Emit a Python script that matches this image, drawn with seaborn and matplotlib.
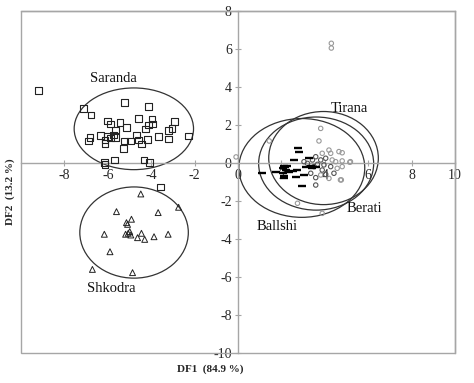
import pandas as pd
import seaborn as sns
import matplotlib
matplotlib.use('Agg')
import matplotlib.pyplot as plt
from matplotlib.patches import Ellipse, Rectangle

# discriminant scores
saranda_x = [-7.12, -6.77, -5.24, -4.11, -6.01, -5.86, -5.44, -4.57, -3.96, -4.11, -4.27, -3.94,
             -2.92, -3.04, -3.22, -5.14, -5.64, -6.32, -5.86, -5.64, -6.13, -6.13, -6.82, -6.90,
             -5.24, -4.95, -4.68, -4.57, -4.45, -4.17, -3.68, -3.22, -2.28, -5.29, -6.16, -6.13,
             -5.70, -4.33, -4.07, -5.75, -6.01, -9.20, -3.58]
saranda_y = [2.88, 2.53, 3.19, 2.96, 2.21, 2.05, 2.14, 2.35, 2.32, 2.00, 1.79, 2.05,
             2.18, 1.82, 1.70, 1.86, 1.74, 1.46, 1.32, 1.35, 1.21, 1.04, 1.35, 1.16,
             1.16, 1.16, 1.47, 1.21, 1.00, 1.25, 1.38, 1.26, 1.42, 0.77, 0.02, -0.07,
             0.16, 0.16, 0.04, 1.47, 1.38, 3.80, -1.26]

shkodra_x = [-4.48, -5.60, -3.68, -2.74, -4.91, -5.14, -5.09, -6.16, -5.18, -5.06,
             -4.94, -4.99, -4.45, -4.63, -4.30, -3.87, -3.22, -5.90, -6.71, -4.86]
shkodra_y = [-1.63, -2.56, -2.61, -2.33, -2.96, -3.14, -3.23, -3.75, -3.75, -3.70,
             -3.79, -3.61, -3.70, -3.93, -4.02, -3.88, -3.75, -4.67, -5.60, -5.77]

tirana_x = [3.73, 4.19, 4.65, 4.27, 3.88, 4.34, 4.50, 4.80, 5.18, 4.80, 4.57, 3.81,
            4.72, 4.19, 3.81, 4.80, 5.15, 4.76, 3.88, 1.44, 2.74, 4.30, 4.30, -0.09]
tirana_y = [1.16, 0.68, 0.60, 0.51, 0.51, 0.16, 0.07, 0.11, 0.07, -0.19, -0.28, -0.63,
            -0.89, -0.81, 1.82, 0.54, 0.04, -0.89, -2.65, 1.16, -2.12, 6.30, 6.05, 0.32]

berati_x = [3.58, 3.43, 3.81, 4.04, 4.27, 3.96, 3.66, 3.50, 3.88, 4.04, 3.58, 3.35,
            4.42, 3.20, 3.04, 3.58]
berati_y = [0.33, 0.16, 0.16, 0.25, -0.19, -0.10, -0.07, -0.19, -0.37, -0.60, -0.77, -0.54,
            -0.54, -0.02, 0.07, -1.16]

ballshi_x = [2.77, 2.81, 2.58, 2.12, 2.09, 2.20, 1.74, 2.05, 2.12, 2.12, 2.35, 2.55,
             2.71, 2.66, 3.04, 3.12, 3.35, 3.43, 3.58, 2.97, 3.27, 2.28, 1.10, 2.17]
ballshi_y = [0.77, 0.56, 0.16, -0.14, -0.28, -0.37, -0.49, -0.54, -0.67, -0.77, -0.49, -0.42,
             -0.37, -0.72, -0.63, -0.19, -0.14, -0.28, -0.19, -1.19, 0.25, -0.14, -0.54, -0.19]

# confidence ellipses: centre x, centre y, width, height
ell_names = ['Saranda', 'Shkodra', 'Ballshi', 'Berati', 'Tirana']
ell_cx = [-4.8, -4.79, 2.94, 3.60, 3.94]
ell_cy = [1.8, -3.66, -0.26, -0.03, 0.26]
ell_w = [5.5, 5.0, 5.8, 5.3, 5.05]
ell_h = [4.3, 4.8, 5.2, 4.9, 4.9]

label_names = ['Saranda', 'Shkodra', 'Tirana', 'Berati', 'Ballshi']
label_x = [-5.73, -5.83, 5.14, 5.83, 1.79]
label_y = [4.47, -6.63, 2.89, -2.37, -3.32]

ticks_x = [-8, -6, -4, -2, 0, 2, 4, 6, 8, 10]
ticks_y = [-10, -8, -6, -4, -2, 0, 2, 4, 6, 8]

df = pd.concat([
    pd.DataFrame({'DF1': saranda_x, 'DF2': saranda_y, 'site': 'Saranda'}),
    pd.DataFrame({'DF1': shkodra_x, 'DF2': shkodra_y, 'site': 'Shkodra'}),
    pd.DataFrame({'DF1': tirana_x, 'DF2': tirana_y, 'site': 'Tirana'}),
    pd.DataFrame({'DF1': berati_x, 'DF2': berati_y, 'site': 'Berati'}),
    pd.DataFrame({'DF1': ballshi_x, 'DF2': ballshi_y, 'site': 'Ballshi'}),
])

sns.set_style('white')
plt.rcParams['font.family'] = ['Liberation Serif', 'DejaVu Serif']

fig = plt.figure(figsize=(4.74, 3.83), dpi=100)
ax = fig.add_axes([0.0443, 0.0783, 0.9157, 0.893])

grey = '#a6a6a6'

for name, cx, cy, w, h in zip(ell_names, ell_cx, ell_cy, ell_w, ell_h):
    ax.add_patch(Ellipse((cx, cy), w, h, fill=False, edgecolor='#333333', lw=0.9, zorder=2))

styles = {
    'Saranda': dict(marker='s', s=24, facecolor='none', edgecolor='#222222', linewidth=0.8),
    'Shkodra': dict(marker='^', s=18, facecolor='none', edgecolor='#222222', linewidth=0.7),
    'Tirana': dict(marker='o', s=10, facecolor='none', edgecolor='#999999', linewidth=0.8),
    'Berati': dict(marker='o', s=10, facecolor='none', edgecolor='#555555', linewidth=0.8),
    'Ballshi': dict(marker='_', s=28, color='black', linewidth=1.7),
}
for site, kw in styles.items():
    sub = df[df['site'] == site]
    sns.scatterplot(data=sub, x='DF1', y='DF2', ax=ax, legend=False, zorder=3, **kw)

for name, lx, ly in zip(label_names, label_x, label_y):
    ax.text(lx, ly, name, ha='center', va='center', fontsize=10.5, color='#111111')

ax.set_xlim(-10, 10)
ax.set_ylim(-10, 8)
ax.set_xticks(ticks_x)
ax.set_yticks(ticks_y)
ax.set_xticklabels([str(t) for t in ticks_x], fontweight='bold', fontsize=8)
ax.set_yticklabels([str(t) for t in ticks_y], fontweight='bold', fontsize=8)

# axes crossing at the origin
ax.spines['left'].set_position(('data', 0))
ax.spines['bottom'].set_position(('data', 0))
for sp in ['left', 'bottom', 'top', 'right']:
    ax.spines[sp].set_color(grey)
    ax.spines[sp].set_linewidth(1.0)
ax.add_patch(Rectangle((0, 0), 1, 1, transform=ax.transAxes, fill=False,
                       edgecolor=grey, lw=1.0, clip_on=False, zorder=1))
ax.tick_params(axis='both', direction='inout', length=5, width=0.8, color=grey,
               pad=2, left=True, bottom=True)

ax.set_xlabel('')
ax.set_ylabel('')
fig.text(0.443, 0.035, 'DF1  (84.9 %)', ha='center', va='center', fontsize=8, fontweight='bold')
fig.text(0.022, 0.50, 'DF2  (13.2 %)', ha='center', va='center', fontsize=8,
         fontweight='bold', rotation=90)

fig.savefig('out.png', dpi=100)
